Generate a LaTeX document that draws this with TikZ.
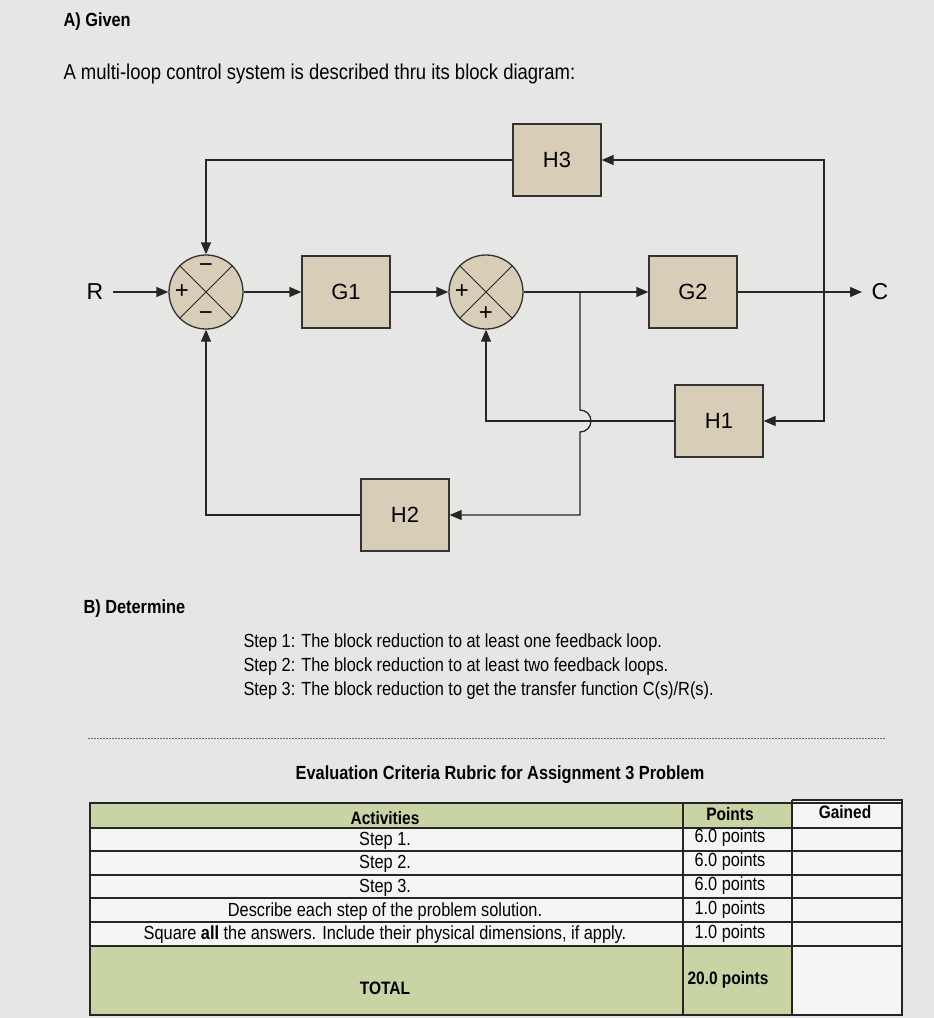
\documentclass[tikz,border=0pt]{standalone}
\usepackage{fontspec}
\setmainfont{Liberation Sans}
\newfontfamily\narrowf{Liberation Sans}[FakeStretch=0.86]
\usetikzlibrary{arrows.meta}
\definecolor{bg}{HTML}{E6E6E4}
\definecolor{blk}{HTML}{D8CDB6}
\definecolor{grn}{HTML}{C8D4A4}
\begin{document}
\begin{tikzpicture}[x=1pt,y=-1pt,
  blk/.style={draw=black!80,line width=1.3pt,fill=blk,minimum width=88pt,minimum height=72pt,font=\fontsize{22}{22}\selectfont},
  sum/.style={circle,draw=black!80,line width=1.3pt,fill=blk,minimum size=74pt,inner sep=0pt},
  ln/.style={line width=1.3pt,draw=black!85},
  ar/.style={ln,-{Triangle[length=12pt,width=10pt]}},
  sg/.style={font=\fontsize{24}{24}\selectfont},
  txt/.style={anchor=west,font=\fontsize{19}{20}\selectfont\narrowf},
  tb/.style={font=\fontsize{19}{19}\selectfont\narrowf},
  tbb/.style={font=\fontsize{18}{18}\selectfont\bfseries\narrowf}]
\fill[bg] (0,0) rectangle (934,1018);
\useasboundingbox (0,0) rectangle (934,1018);
\node[anchor=west,font=\fontsize{19}{19}\selectfont\bfseries\narrowf] (tA) at (60,22) {A) Given};
\node[anchor=west,font=\fontsize{21.5}{21.5}\selectfont\narrowf] (tA2) at (60,74) {A multi-loop control system is described thru its block diagram:};
% blocks
\node[blk] (H3) at (557,160) {H3};
\node[blk] (G1) at (346,292) {G1};
\node[blk] (G2) at (693,292) {G2};
\node[blk] (H1) at (719,421) {H1};
\node[blk] (H2) at (405,515) {H2};
\node[sum] (S1) at (206,292) {};
\node[sum] (S2) at (486,292) {};
\foreach \s in {S1,S2}{
  \draw[ln,line width=1pt] (\s.45)--(\s.225) (\s.135)--(\s.315);}
\node[sg] (p1) at (182,292) {+};
\node[sg] (m1) at (206,268) {\textminus};
\node[sg] (m2) at (206,316) {\textminus};
\node[sg] (p2) at (462,292) {+};
\node[sg] (p3) at (486,314) {+};
\node[font=\fontsize{23}{23}\selectfont] (R) at (95,292) {R};
\node[font=\fontsize{23}{23}\selectfont] (C) at (880,292) {C};
\coordinate (out) at (862,292);
\coordinate (rt) at (824,292);
\coordinate (b1) at (580,292);
\coordinate (rin) at (113,292);
% connectors
\draw[ar] (rin) -- (S1.west);
\draw[ar] (S1.east) -- (G1.west);
\draw[ar] (G1.east) -- (S2.west);
\draw[ar] (S2.east) -- (G2.west);
\draw[ar] (G2.east) -- (out);
\draw[ar] (rt) |- (H3.east);
\draw[ar] (H3.west) -| (S1.north);
\draw[ar] (rt) |- (H1.east);
\draw[ar] (b1) -- (580,410) arc[start angle=-90,end angle=90,radius=11] -- (580,515) -- (H2.east);
\draw[ar] (H1.west) -- (486,421) -- (S2.south);
\draw[ar] (H2.west) -| (S1.south);
% part B
\node[anchor=west,font=\fontsize{19}{19}\selectfont\bfseries\narrowf] (tB) at (80,609) {B) Determine};
\node[txt] (st1) at (240,643) {Step 1: The block reduction to at least one feedback loop.};
\node[txt] (st2) at (240,667) {Step 2: The block reduction to at least two feedback loops.};
\node[txt] (st3) at (240,691) {Step 3: The block reduction to get the transfer function C(s)/R(s).};
\draw[black!60,line width=0.8pt,dash pattern=on 2pt off 1pt] (88,738) -- (886,738);
\node[font=\fontsize{19}{19}\selectfont\bfseries\narrowf] (tE) at (500,775) {Evaluation Criteria Rubric for Assignment 3 Problem};
% table
\fill[grn] (90,803) rectangle (792,828);
\fill[grn] (90,946) rectangle (792,1015);
\fill[white!60!bg] (90,828) rectangle (792,946);
\fill[white!60!bg] (792,800) rectangle (902,1015);
\draw[ln,line width=1.5pt] (90,803) rectangle (902,1015);
\draw[ln] (792,800) -- (902,800) -- (902,803);
\foreach \y in {828,851,875,898,922,946} \draw[ln] (90,\y) -- (902,\y);
\draw[ln] (683,803) -- (683,1015);
\draw[ln] (792,800) -- (792,1015);
\node[tbb] (h1) at (385,818) {Activities};
\node[tbb] (h2) at (730,814) {Points};
\node[tbb] (h3) at (845,812) {Gained};
\node[tb] (r1) at (385,841) {Step 1.};
\node[tb] (r2) at (385,864) {Step 2.};
\node[tb] (r3) at (385,888) {Step 3.};
\node[tb] (r4) at (385,912) {Describe each step of the problem solution.};
\node[tb] (r5) at (385,935) {Square \textbf{all} the answers. Include their physical dimensions, if apply.};
\node[tb] (q1) at (730,838) {6.0 points};
\node[tb] (q2) at (730,862) {6.0 points};
\node[tb] (q3) at (730,886) {6.0 points};
\node[tb] (q4) at (730,910) {1.0 points};
\node[tb] (q5) at (730,934) {1.0 points};
\node[tbb] (tot) at (385,988) {TOTAL};
\node[tbb] (totp) at (728,980) {20.0 points};
\end{tikzpicture}
\end{document}
